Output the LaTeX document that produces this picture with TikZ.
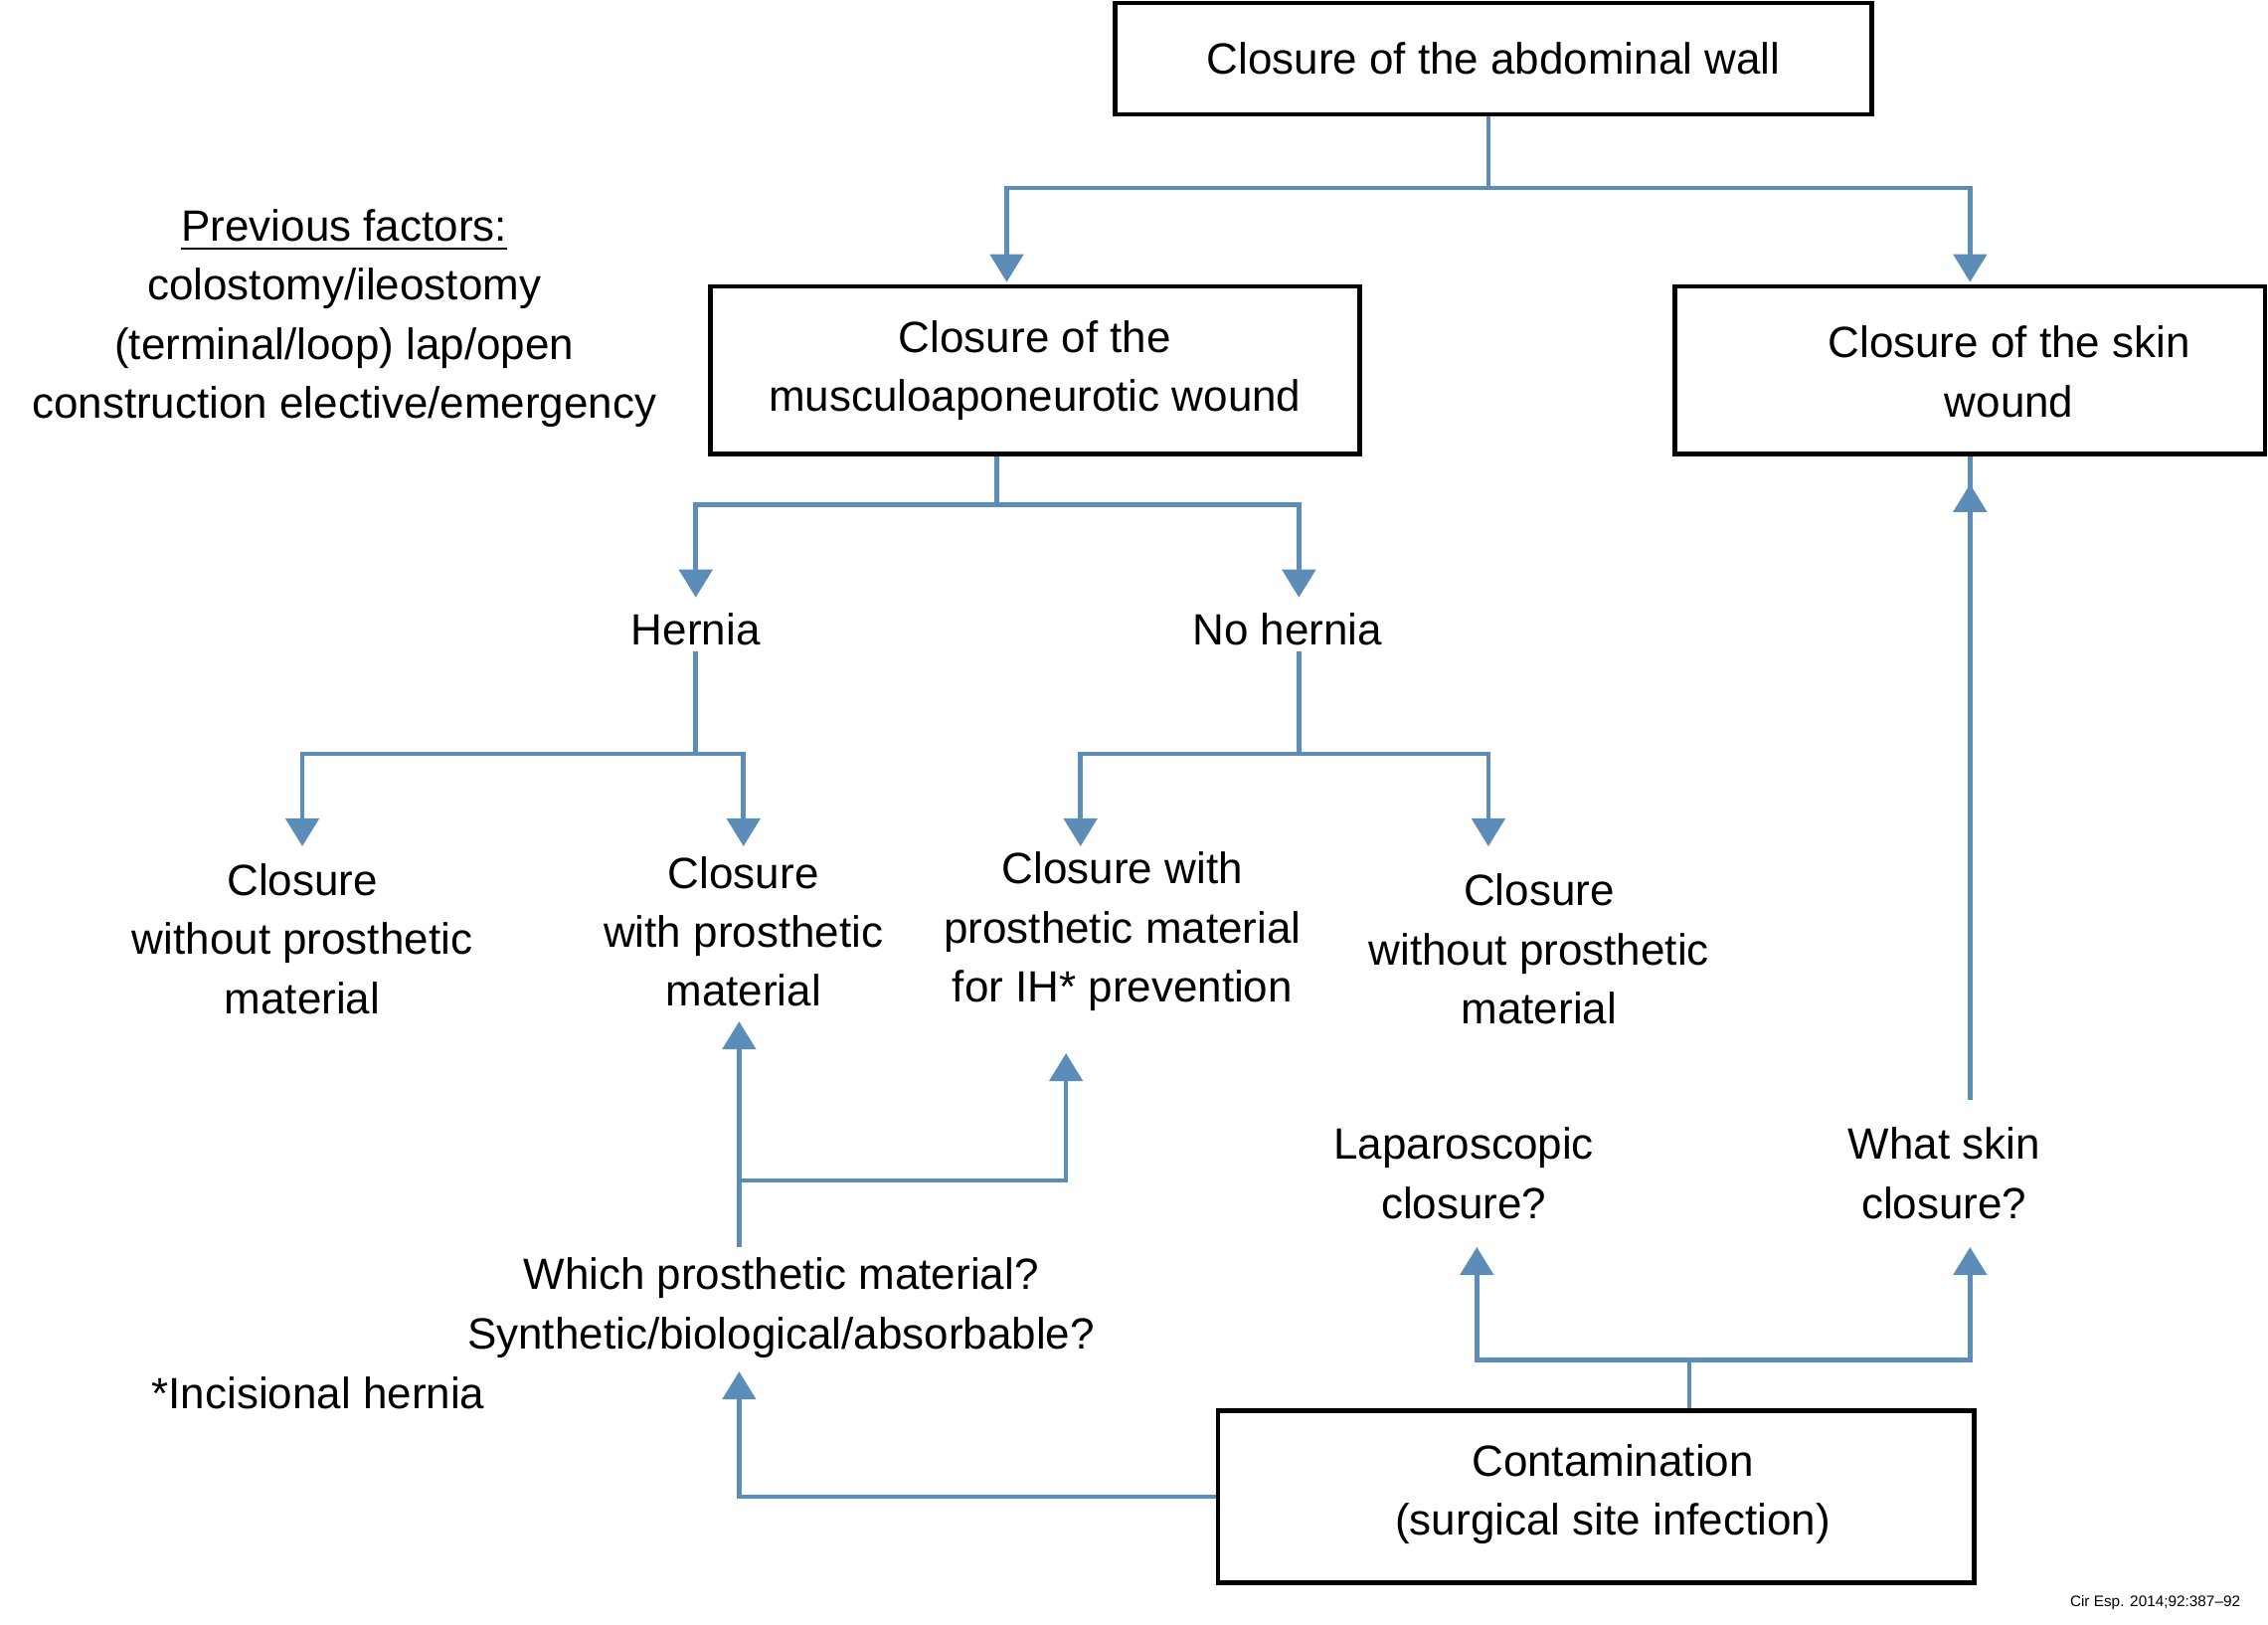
\documentclass[tikz,border=0pt]{standalone}
\usepackage{fontspec}
\setmainfont{Liberation Sans}
\usetikzlibrary{arrows.meta}
\definecolor{steel}{HTML}{5B8DB8}

\begin{document}
\begin{tikzpicture}[
    box/.style = {draw, line width=0.9pt, inner sep=0pt},
    txt/.style = {align=center, font=\fontsize{8.6}{11.6}\selectfont},
    link/.style = {draw=steel, line width=0.9pt},
    arr/.style = {link, -{Triangle[width=6.5pt, length=5.5pt]}}]
      \useasboundingbox (0,0) rectangle (15.68,-11.23);
      % boxes
      \node [box, minimum width=5.23cm, minimum height=0.77cm] (wall) at (10.325,-0.405) {};
      \node [txt] at (wall) {Closure of the abdominal wall};
      \node [box, minimum width=4.49cm, minimum height=1.16cm] (musc) at (7.155,-2.56) {};
      \node [txt] at (musc) {Closure of the\\musculoaponeurotic wound};
      \node [box, minimum width=4.08cm, minimum height=1.16cm] (skin) at (13.62,-2.56) {};
      \node [txt] at (13.89,-2.57) {Closure of the skin\\wound};
      \node [box, minimum width=5.23cm, minimum height=1.19cm] (cont) at (11.035,-10.345) {};
      \node [txt] at (11.15,-10.33) {Contamination\\(surgical site infection)};
      % free texts
      \node [txt] (prev) at (2.38,-2.2) {\underline{Previous factors:}\\colostomy/ileostomy\\(terminal/loop) lap/open\\construction elective/emergency};
      \node [txt] (hern) at (4.81,-4.35) {Hernia};
      \node [txt] (nohern) at (8.9,-4.35) {No hernia};
      \node [txt] (hwo) at (2.09,-6.49) {Closure\\without prosthetic\\material};
      \node [txt] (hw) at (5.14,-6.44) {Closure\\with prosthetic\\material};
      \node [txt] (nw) at (7.76,-6.44) {Closure with\\prosthetic material\\for IH* prevention};
      \node [txt] (nwo) at (10.64,-6.56) {Closure\\without prosthetic\\material};
      \node [txt] (which) at (5.4,-9.04) {Which prosthetic material?\\Synthetic/biological/absorbable?};
      \node [txt] (lap) at (10.12,-8.11) {Laparoscopic\\closure?};
      \node [txt] (what) at (13.44,-8.11) {What skin\\closure?};
      \node [txt] (ih) at (2.2,-9.63) {*Incisional hernia};
      \node [font=\fontsize{3}{4}\selectfont] (ref) at (14.9,-11.08) {Cir Esp. 2014;92:387--92};
      % branch points
      \coordinate (j1) at (10.29,-1.3);
      \coordinate (j2) at (6.89,-3.49);
      \coordinate (j3) at (4.81,-5.21);
      \coordinate (j4) at (8.98,-5.21);
      \coordinate (j5) at (5.11,-8.16);
      \coordinate (j6) at (11.68,-9.4);
      % connectors
      \draw [link] (wall.south -| j1) -- (j1);
      \draw [arr] (j1) -| (6.96,-1.95);
      \draw [arr] (j1) -| (13.62,-1.95);
      \draw [link] (musc.south -| j2) -- (j2);
      \draw [arr] (j2) -| (4.81,-4.13);
      \draw [arr] (j2) -| (8.98,-4.13);
      \draw [link] (4.81,-4.5) -- (j3);
      \draw [arr] (j3) -| (2.09,-5.85);
      \draw [arr] (j3) -| (5.14,-5.85);
      \draw [link] (8.98,-4.5) -- (j4);
      \draw [arr] (j4) -| (7.47,-5.85);
      \draw [arr] (j4) -| (10.29,-5.85);
      \draw [arr] (5.11,-8.62) -- (5.11,-7.06);
      \draw [arr] (j5) -| (7.37,-7.28);
      \draw [link] (cont.north -| j6) -- (j6);
      \draw [arr] (j6) -| (10.21,-8.62);
      \draw [arr] (j6) -| (13.62,-8.62);
      \draw [arr] (13.62,-7.6) -- (skin.south -| 13.62,0) ++(0,-0.19);
      \draw [arr] (cont.west) -| (5.11,-9.48);
    \end{tikzpicture}
\end{document}
